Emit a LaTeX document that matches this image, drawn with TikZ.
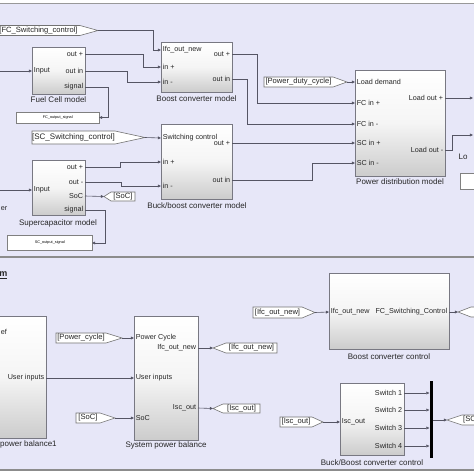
\documentclass[tikz,border=0pt]{standalone}
\usepackage{fontspec}
\setmainfont{Liberation Sans}
\usetikzlibrary{arrows.meta}
\definecolor{bg}{RGB}{231,231,248}
\definecolor{wirec}{RGB}{85,85,100}
\definecolor{blkb}{RGB}{120,120,130}
\tikzset{
 wire/.style={draw=wirec, line width=0.6pt},
 arr/.style={wire, -{Triangle[length=3.2pt,width=2.8pt]}},
 blk/.style={draw=blkb, line width=0.7pt, top color=white, bottom color=black!20, middle color=white!96!black, anchor=north west, inner sep=0pt, outer sep=0pt},
 plab/.style={font=\fontsize{7.2}{8}\selectfont, inner sep=0.6pt, text=black!85},
 inl/.style={plab, anchor=west, xshift=1pt},
 outl/.style={plab, anchor=east, xshift=-1pt},
 blab/.style={font=\fontsize{8}{9}\selectfont, text=black!85, inner sep=0pt},
 tagt/.style={font=\fontsize{7.6}{8}\selectfont, text=black!85, inner sep=0pt},
 tagshape/.style={draw=black!55, fill=white, line width=0.6pt},
 disp/.style={draw=black!50, fill=white, line width=0.6pt, anchor=north west, inner sep=0pt, font=\fontsize{3.8}{4}\selectfont},
}
% from tag: name, xl, xr, xtip, yc, halfh, text
\newcommand{\ftag}[7]{%
  \draw[tagshape] (#2,#5-#6) -- (#3,#5-#6) -- (#4,#5) -- (#3,#5+#6) -- (#2,#5+#6) -- cycle;
  \node[tagt] (#1) at ({(#2+#3)/2},#5) {#7};
  \coordinate (#1-tip) at (#4,#5);}
% goto tag: name, xtip, xl, xr, yc, halfh, text
\newcommand{\gtag}[7]{%
  \draw[tagshape] (#2,#5) -- (#3,#5-#6) -- (#4,#5-#6) -- (#4,#5+#6) -- (#3,#5+#6) -- cycle;
  \node[tagt] (#1) at ({(#3+#4)/2},#5) {#7};
  \coordinate (#1-tip) at (#2,#5);}
\begin{document}
\begin{tikzpicture}[x=1pt,y=-1pt]
\useasboundingbox (0,0) rectangle (474,474);
\clip (0,0) rectangle (474,474);
\fill[white] (0,0) rectangle (474,474);
\fill[bg] (0,3) rectangle (474,470);
\draw[black!40, line width=1pt] (0,3) -- (474,3);
\draw[black!45, line width=1.5pt] (0,257) -- (474,257);
\draw[black!45, line width=1.5pt] (0,470) -- (474,470);

% ================= TOP PANEL =================
% Fuel cell model
\node[blk, minimum width=53pt, minimum height=47pt] (fc) at (32,47) {};
\coordinate (fc-in) at (32,71);
\coordinate (fc-op) at (85,54);
\coordinate (fc-oi) at (85,71);
\coordinate (fc-sig) at (85,87);
\node[inl] at (fc-in) {Input};
\node[outl] at (fc-op) {out +};
\node[outl] at (fc-oi) {out in};
\node[outl] at (fc-sig) {signal};
\node[blab] at (58.5,100) {Fuel Cell model};
\coordinate (fcsrc) at (-2,71);
\draw[arr] (fcsrc) -- (fc-in);

% FC display
\node[disp, minimum width=83pt, minimum height=11pt] (fcd) at (16,112) {FC\_output\_signal};
\coordinate (fcd-in) at (99,117.5);

% Boost converter model
\node[blk, minimum width=71pt, minimum height=50pt] (bm) at (161,42) {};
\coordinate (bm-i1) at (161,50);
\coordinate (bm-i2) at (161,67);
\coordinate (bm-i3) at (161,82);
\coordinate (bm-o1) at (232,54);
\coordinate (bm-o2) at (232,79);
\node[inl] at (bm-i1) {Ifc\_out\_new};
\node[inl] at (bm-i2) {in +};
\node[inl] at (bm-i3) {in -};
\node[outl] at (bm-o1) {out +};
\node[outl] at (bm-o2) {out in};
\node[blab] at (196.5,98.5) {Boost converter model};

% FC switching tag
\ftag{fctag}{-3}{80}{98}{30.5}{5}{[FC\_Switching\_control]}

% Power distribution model
\node[blk, minimum width=90pt, minimum height=106pt] (pd) at (355,70) {};
\coordinate (pd-i1) at (355,82);
\coordinate (pd-i2) at (355,103);
\coordinate (pd-i3) at (355,124);
\coordinate (pd-i4) at (355,143);
\coordinate (pd-i5) at (355,163);
\coordinate (pd-o1) at (445,98);
\coordinate (pd-o2) at (445,150);
\node[inl] at (pd-i1) {Load demand};
\node[inl] at (pd-i2) {FC in +};
\node[inl] at (pd-i3) {FC in -};
\node[inl] at (pd-i4) {SC in +};
\node[inl] at (pd-i5) {SC in -};
\node[outl] at (pd-o1) {Load out +};
\node[outl] at (pd-o2) {Load out -};
\node[blab] at (400,181.5) {Power distribution model};

\ftag{pdtag}{264}{333}{347}{82}{5}{[Power\_duty\_cycle]}

% right edge
\coordinate (ldp) at (473,98);
\coordinate (ldm) at (473,135);
\node[blab, anchor=west] (lo) at (458.5,157) {Lo};
\node[disp, minimum width=22pt, minimum height=16pt] (lbox) at (460,173) {};

% SC switching tag
{\tikzset{tagt/.style={font=\fontsize{8}{9}\selectfont, text=black!85, inner sep=0pt}}
\ftag{sctag}{32}{115}{145}{137.5}{6.5}{[SC\_Switching\_control]}}

% Buck/boost converter model
\node[blk, minimum width=71pt, minimum height=75pt] (bb) at (161,124) {};
\coordinate (bb-i1) at (161,138);
\coordinate (bb-i2) at (161,162);
\coordinate (bb-i3) at (161,186);
\coordinate (bb-o1) at (232,143);
\coordinate (bb-o2) at (232,180);
\node[inl] at (bb-i1) {Switching control};
\node[inl] at (bb-i2) {in +};
\node[inl] at (bb-i3) {in -};
\node[outl] at (bb-o1) {out +};
\node[outl] at (bb-o2) {out in};
\node[blab] at (197,205.5) {Buck/boost converter model};

% Supercapacitor model
\node[blk, minimum width=53pt, minimum height=55pt] (sc) at (32,160) {};
\coordinate (sc-in) at (32,190);
\coordinate (sc-o1) at (85,167);
\coordinate (sc-o2) at (85,182);
\coordinate (sc-o3) at (85,196);
\coordinate (sc-o4) at (85,210);
\node[inl] at (sc-in) {Input};
\node[outl] at (sc-o1) {out +};
\node[outl] at (sc-o2) {out -};
\node[outl] at (sc-o3) {SoC};
\node[outl] at (sc-o4) {signal};
\node[blab] at (58,223) {Supercapacitor model};
\coordinate (scsrc) at (-2,190);
\draw[arr] (scsrc) -- (sc-in);
\node[plab, anchor=west] (er) at (0,209) {er};

\gtag{socg}{104}{111}{135}{196.5}{4.5}{[SoC]}

\node[disp, minimum width=85pt, minimum height=15pt] (scd) at (7,235) {SC\_output\_signal};
\coordinate (scd-in) at (92,243);

% top wires
\draw[arr] (fctag-tip) -- (153,30.5) |- (bm-i1);
\draw[arr] (fc-op) -- (143,54) |- (bm-i2);
\draw[arr] (fc-oi) -- (127,71) |- (bm-i3);
\draw[arr] (fc-sig) -- (108,87) |- (fcd-in);
\draw[arr] (bm-o1) -- (257,54) |- (pd-i2);
\draw[arr] (bm-o2) -- (247,79) |- (pd-i3);
\draw[arr] (pdtag-tip) -- (pd-i1);
\draw[arr] (pd-o1) -- (ldp);
\draw[arr] (pd-o2) -- (452,150) |- (ldm);
\draw[arr] (sctag-tip) -- (bb-i1);
\draw[arr] (sc-o1) -- (120,167) |- (bb-i2);
\draw[arr] (sc-o2) -- (121,182) |- (bb-i3);
\draw[arr] (sc-o3) -- (socg-tip);
\draw[arr] (sc-o4) -- (105,210) |- (scd-in);
\draw[arr] (bb-o1) -- (pd-i4);
\draw[arr] (bb-o2) -- (312,180) |- (pd-i5);

% ================= BOTTOM PANEL =================
\node[anchor=east, inner sep=0pt, font=\fontsize{9}{10}\selectfont\bfseries, text=black!85] (hd) at (7.5,275) {\underline{m}};

% left block
\node[blk, minimum width=51pt, minimum height=122pt] (lb) at (-5,316) {};
\coordinate (lb-o) at (46,378);
\node[plab, anchor=west] at (0,332) {ef};
\node[outl] at (lb-o) {User inputs};
\node[blab, anchor=west] at (0,444.5) {power balance1};

% System power balance
\node[blk, minimum width=64pt, minimum height=124pt] (sp) at (134,316) {};
\coordinate (sp-i1) at (134,338);
\coordinate (sp-i2) at (134,378);
\coordinate (sp-i3) at (134,418);
\coordinate (sp-o1) at (198,348);
\coordinate (sp-o2) at (198,408);
\node[inl] at (sp-i1) {Power Cycle};
\node[inl] at (sp-i2) {User inputs};
\node[inl] at (sp-i3) {SoC};
\node[outl] at (sp-o1) {Ifc\_out\_new};
\node[outl] at (sp-o2) {Isc\_out};
\node[blab] at (166,445.5) {System power balance};

\ftag{pctag}{56}{106}{122}{338}{5}{[Power\_cycle]}
\ftag{soctag}{76}{100}{115}{418}{5}{[SoC]}
\gtag{ifcg}{213}{226}{277}{348}{5}{[Ifc\_out\_new]}
\gtag{iscg}{213}{223}{260}{408.5}{4.5}{[Isc\_out]}

% Boost converter control
\node[blk, minimum width=120pt, minimum height=76pt] (bc) at (329,273) {};
\coordinate (bc-i) at (329,312);
\coordinate (bc-o) at (449,312);
\node[inl] at (bc-i) {Ifc\_out\_new};
\node[outl] at (bc-o) {FC\_Switching\_Control};
\node[blab] at (389,356.5) {Boost converter control};
\ftag{ifctag}{253}{302}{315}{312.5}{5.5}{[Ifc\_out\_new]}
\gtag{fcg}{458}{471}{520}{312}{5}{}

% Buck/Boost converter control
\node[blk, minimum width=64pt, minimum height=72pt] (bbc) at (340,383) {};
\coordinate (bbc-i) at (340,422);
\coordinate (bbc-o1) at (404,393);
\coordinate (bbc-o2) at (404,410);
\coordinate (bbc-o3) at (404,428);
\coordinate (bbc-o4) at (404,446);
\node[inl] at (bbc-i) {Isc\_out};
\node[outl] at (bbc-o1) {Switch 1};
\node[outl] at (bbc-o2) {Switch 2};
\node[outl] at (bbc-o3) {Switch 3};
\node[outl] at (bbc-o4) {Switch 4};
\node[blab] at (372,462.5) {Buck/Boost converter control};
\ftag{isctag}{280}{312}{323}{422}{5}{[Isc\_out]}

% mux bar
\node[fill=black, draw=none, anchor=north west, inner sep=0pt, minimum width=3pt, minimum height=77pt] (mux) at (429.5,381) {};
\coordinate (mx1) at (429.5,393);
\coordinate (mx2) at (429.5,410);
\coordinate (mx3) at (429.5,428);
\coordinate (mx4) at (429.5,446);
\coordinate (mxo) at (432.5,420);
\draw[tagshape] (447,420) -- (462,415) -- (490,415) -- (490,425) -- (462,425) -- cycle;
\coordinate (scg-tip) at (447,420);
\node[tagt, anchor=west] (scg) at (463,420) {[SC\_Switching\_control]};

% bottom wires
\draw[arr] (lb-o) -- (sp-i2);
\draw[arr] (pctag-tip) -- (sp-i1);
\draw[arr] (soctag-tip) -- (sp-i3);
\draw[arr] (sp-o1) -- (ifcg-tip);
\draw[arr] (sp-o2) -- (iscg-tip);
\draw[arr] (ifctag-tip) -- (bc-i);
\draw[arr] (bc-o) -- (fcg-tip);
\draw[arr] (isctag-tip) -- (bbc-i);
\draw[arr] (bbc-o1) -- (mx1);
\draw[arr] (bbc-o2) -- (mx2);
\draw[arr] (bbc-o3) -- (mx3);
\draw[arr] (bbc-o4) -- (mx4);
\draw[arr] (mxo) -- (scg-tip);
\end{tikzpicture}
\end{document}
